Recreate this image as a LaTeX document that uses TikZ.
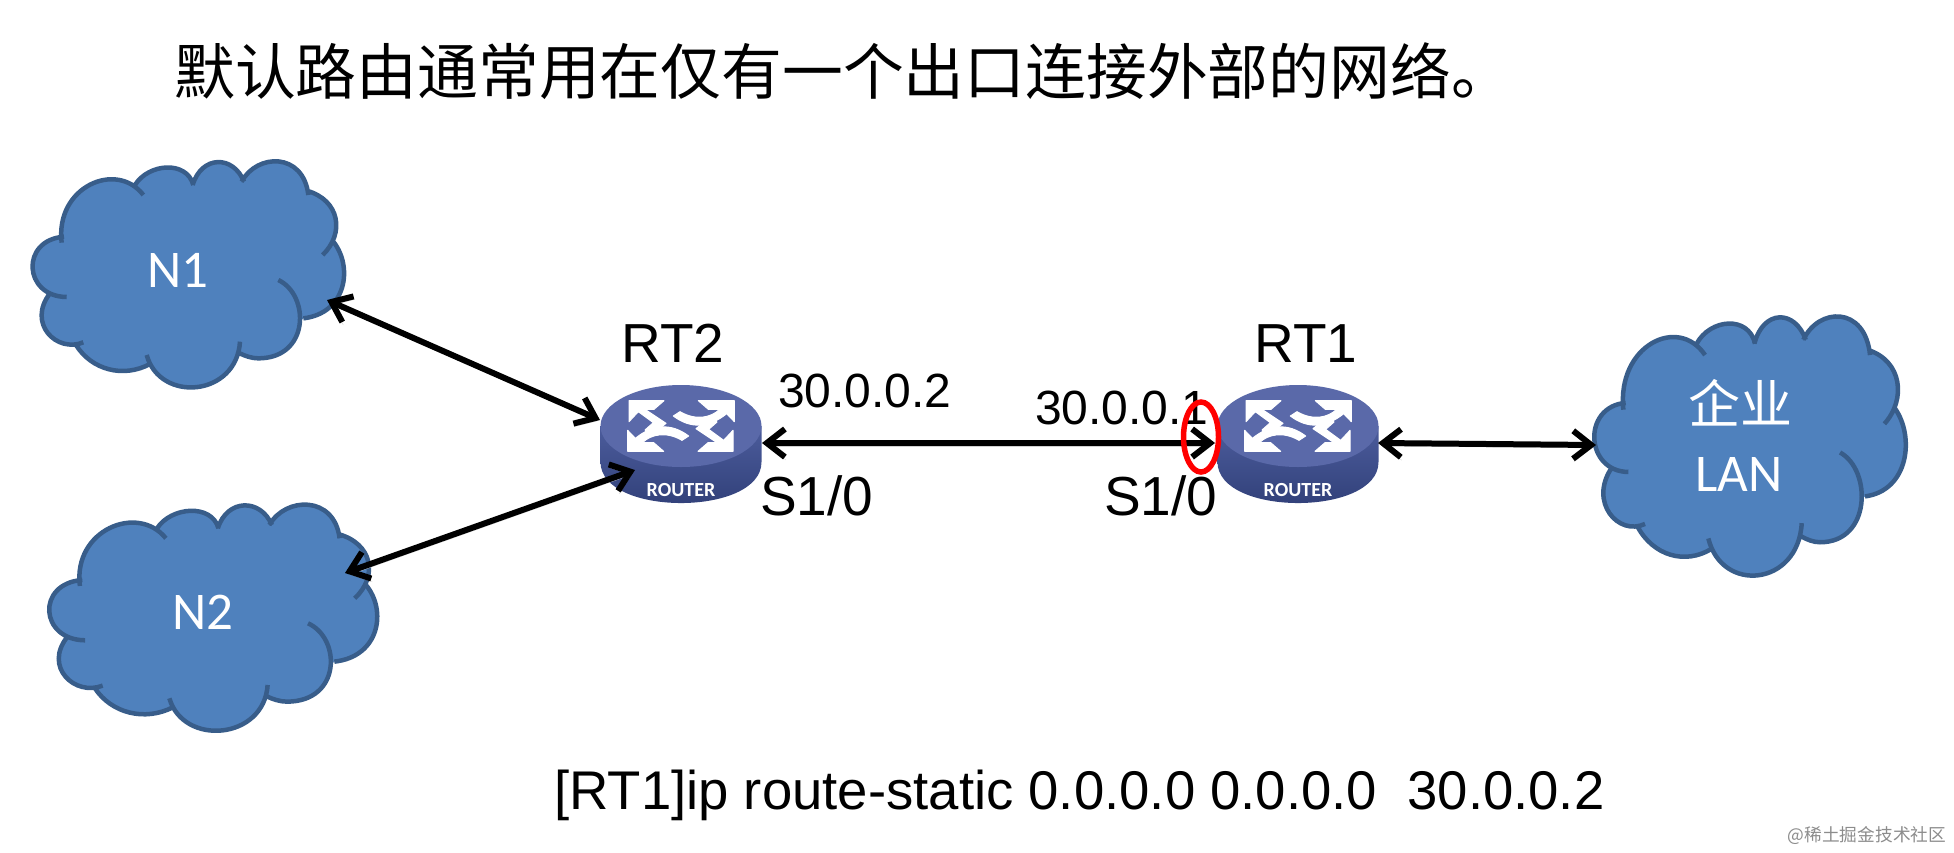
\documentclass[tikz,border=0pt]{standalone}
\usepackage{fontspec}
\setmainfont{Liberation Sans}
\newfontfamily\cjk{Noto Sans CJK SC}
\newfontfamily\cali{Carlito}
\usetikzlibrary{arrows.meta}
\definecolor{cloudblue}{HTML}{4F81BD}
\definecolor{cloudedge}{HTML}{385D8A}
\definecolor{routertop}{HTML}{5A69A9}
\definecolor{routerlight}{HTML}{4C5C9C}
\definecolor{routerdark}{HTML}{2E3D75}
\newcommand{\cloudlobes}{(125,278) .. controls (105,110) and (290,30) .. (370,135)
  (345,105) .. controls (385,40) and (500,30) .. (520,105)
  (518,105) .. controls (545,15) and (640,15) .. (672,95)
  (665,95) .. controls (710,10) and (850,5) .. (865,135)
  (860,122) .. controls (960,150) and (975,250) .. (908,315)
  (940,275) .. controls (1000,350) and (980,490) .. (850,505)
  (775,390) .. controls (870,435) and (870,625) .. (715,625) .. controls (695,625) and (675,618) .. (655,608)
  (660,575) .. controls (650,740) and (420,760) .. (380,615)
  (390,642) .. controls (310,685) and (215,660) .. (168,585)
  (190,577) .. controls (110,610) and (20,520) .. (90,430)
  (140,441) .. controls (10,440) and (0,270) .. (132,260)}
\tikzset{
  every node/.style={inner sep=0pt},
  link/.style={line width=6pt,line cap=round,{Straight Barb[length=18pt,width=28pt,line width=6pt]}-{Straight Barb[length=18pt,width=28pt,line width=6pt]},
    preaction={draw=black!18,transform canvas={shift={(1pt,-3pt)}}}},
  addr/.style={anchor=base west,font=\fontsize{48}{50}\selectfont},
  portname/.style={anchor=base west,font=\fontsize{55}{57}\selectfont},
  rtname/.style={anchor=base,font=\fontsize{55}{57}\selectfont},
  netname/.style={anchor=base,text=white,font=\cali\fontsize{53}{55}\selectfont},
  pics/cloudshape/.style={code={
    \begin{scope}[scale=1/3]
      \fill[cloudblue] \cloudlobes
        (125,278) -- (345,105) -- (520,105) -- (665,95) -- (860,122) -- (940,275) -- (850,505) -- (715,625) -- (655,608) -- (400,650) -- (168,585) -- (90,430) -- cycle;
      \draw[cloudedge,line width=4.5pt] \cloudlobes;
    \end{scope}
  }},
  pics/routerbox/.style={code={
    \shade[top color=routerlight,bottom color=routerdark] (-80.5,0) -- (-80.5,36) .. controls (-80.5,90.7) and (80.5,90.7) .. (80.5,36) -- (80.5,0) -- cycle;
    \fill[routertop] (0,0) ellipse [x radius=80.5,y radius=41];
    \begin{scope}[scale=1/3]
      \foreach \turn in {0,180} {
        \filldraw[white,line width=1pt,line join=round,rotate=\turn] (-156,-76) -- (-51,-76) -- (-81,-50) -- (-108,-50) -- (-45,-8) -- (-91,30) -- (-108,12) -- (-83,-10) -- (-128,-43) -- (-156,-13) -- cycle;
        \filldraw[white,line width=1pt,line join=round,rotate=\turn] (160,-76) -- (52,-76) -- (82,-50) -- (116,-50) .. controls (90,-25) and (45,-15) .. (-3,-43) -- (-23,-30) .. controls (30,10) and (85,5) .. (137,-37) -- (160,-13) -- cycle;
      }
    \end{scope}
    \node[white,font=\cali\bfseries\fontsize{20}{21}\selectfont] at (0,64) {ROUTER};
  }}
}
\begin{document}
\begin{tikzpicture}[x=1pt,y=-1pt]
  \useasboundingbox (0,0) rectangle (1954,852);
  \node (title) [anchor=base west,font=\cjk\fontsize{60.8}{62}\selectfont] at (174,94) {默认路由通常用在仅有一个出口连接外部的网络。};
  % clouds
  \pic at (20,150) {cloudshape};
  \pic[xscale=1.053] at (36,493.3) {cloudshape};
  \pic[yscale=1.146] at (1581.7,303.5) {cloudshape};
  \node (n1) [netname] at (178,287) {N1};
  \node (n2) [netname] at (203,629) {N2};
  \node (lanzh) [text=white,font=\cjk\fontsize{52}{54}\selectfont] at (1740,403) {企业};
  \node (lan) [netname] at (1739,491) {LAN};
  % routers
  \pic at (681,426) {routerbox};
  \pic at (1298,426) {routerbox};
  \node (rt2) [rtname] at (673,362) {RT2};
  \node (rt1) [rtname] at (1306,362) {RT1};
  \node (ipa) [addr] at (778,407) {30.0.0.2};
  \node (ipb) [addr] at (1035,424) {30.0.0.1};
  \node (sa) [portname] at (760,515) {S1/0};
  \node (sb) [portname] at (1104,515) {S1/0};
  % ends of the links
  \coordinate (n1port) at (327,300);
  \coordinate (n2port) at (345,573);
  \coordinate (lanport) at (1596,445);
  \coordinate (rt2w) at (600,420);
  \coordinate (rt2s) at (635,470);
  \coordinate (rt2e) at (762,443);
  \coordinate (rt1w) at (1215,443);
  \coordinate (rt1e) at (1378,443);
  \draw[link] (n1port) -- (rt2w);
  \draw[link] (n2port) -- (rt2s);
  \draw[link] (rt2e) -- (rt1w);
  \draw[link] (rt1e) -- (lanport);
  \draw[red,line width=5.5pt] (1201,437) ellipse [x radius=17.5,y radius=35];
  \node (cmd) [anchor=base west,font=\fontsize{54.5}{56}\selectfont] at (554,809) {[RT1]ip route-static 0.0.0.0 0.0.0.0\ \ 30.0.0.2};
  \node (mark) [text=black!45,font=\cjk\fontsize{17.7}{19}\selectfont] at (1867,836) {@稀土掘金技术社区};
\end{tikzpicture}
\end{document}
